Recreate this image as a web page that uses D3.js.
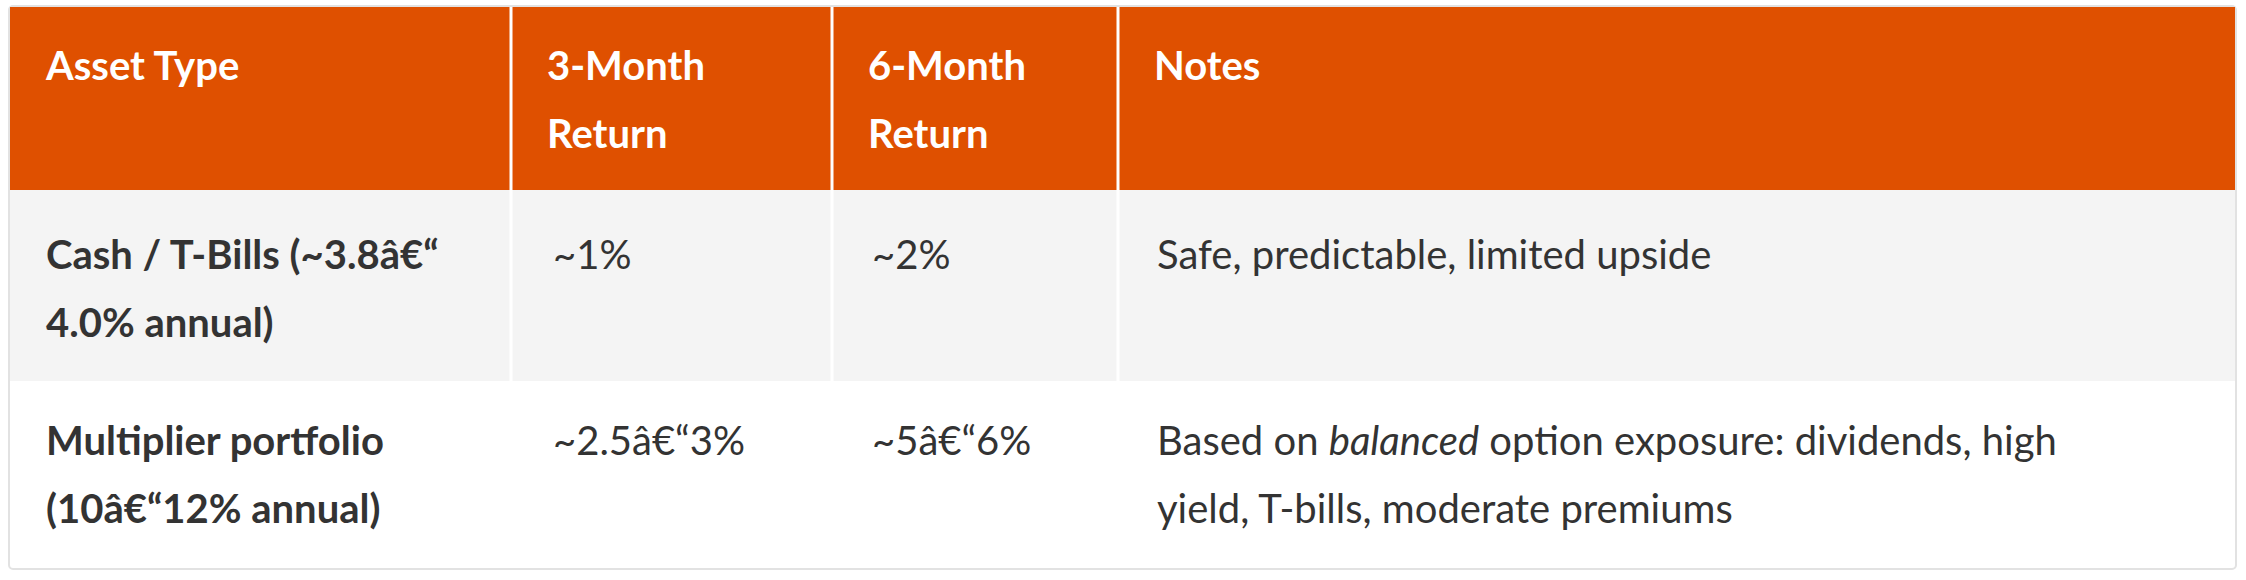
<html>
<head>
<script src="https://d3js.org/d3.v7.min.js"></script>
<style>
body { margin: 0; background: #fff; font-family: Lato, "Noto Sans", sans-serif; }
</style>
</head>
<body>
<svg id="chart" width="2246" height="580"></svg>
<script>
  // table content
  var headers = [["Asset Type"], ["3-Month", "Return"], ["6-Month", "Return"], ["Notes"]];
  var assetTypes = [["Cash / T-Bills (~3.8–", "4.0% annual)"], ["Multiplier portfolio", "(10–12% annual)"]];
  var threeMonth = ["~1%", "~2.5–3%"];
  var sixMonth = ["~2%", "~5–6%"];
  var notes = [
    [[{t: "Safe, predictable, limited upside"}]],
    [[{t: "Based on "}, {t: "balanced", i: true}, {t: " option exposure: dividends, high"}],
     [{t: "yield, T-bills, moderate premiums"}]]
  ];

  var colEdges = [10, 511, 832, 1118, 2235];
  var rowEdges = [7, 190, 381, 568];
  var padX = 36, lineH = 68, fs = 40;

  var svg = d3.select("#chart");

  svg.append("rect").attr("x", 9).attr("y", 6).attr("width", 2227).attr("height", 563)
    .attr("rx", 4).attr("fill", "#fff").attr("stroke", "#e2e2e2").attr("stroke-width", 2);

  // header
  svg.append("rect").attr("x", colEdges[0]).attr("y", rowEdges[0])
    .attr("width", colEdges[4] - colEdges[0]).attr("height", rowEdges[1] - rowEdges[0])
    .attr("fill", "#df5000");
  svg.append("rect").attr("x", colEdges[0]).attr("y", rowEdges[1])
    .attr("width", colEdges[4] - colEdges[0]).attr("height", rowEdges[2] - rowEdges[1])
    .attr("fill", "#f4f4f4");

  // column dividers
  svg.selectAll("line.div").data(colEdges.slice(1, 4)).enter().append("line")
    .attr("x1", d => d).attr("x2", d => d).attr("y1", rowEdges[0]).attr("y2", rowEdges[2])
    .attr("stroke", "#fff").attr("stroke-width", 3);

  function cell(x, y, lines, opts) {
    var t = svg.append("text").attr("x", x).attr("y", y)
      .attr("font-size", fs).attr("fill", opts.fill).attr("font-weight", opts.weight);
    lines.forEach(function(ln, i) {
      t.append("tspan").attr("x", x).attr("dy", i ? lineH : 0).text(ln);
    });
  }

  headers.forEach(function(h, c) {
    cell(colEdges[c] + padX, 80, h, {fill: "#fff", weight: 700});
  });

  var baselines = [269, 455];
  assetTypes.forEach(function(a, r) {
    cell(colEdges[0] + padX, baselines[r], a, {fill: "#333", weight: 700});
    cell(colEdges[1] + padX + 6, baselines[r], [threeMonth[r]], {fill: "#333", weight: 400});
    cell(colEdges[2] + padX + 4, baselines[r], [sixMonth[r]], {fill: "#333", weight: 400});
    var t = svg.append("text").attr("font-size", fs).attr("fill", "#333");
    notes[r].forEach(function(ln, i) {
      ln.forEach(function(seg, j) {
        var s = t.append("tspan").text(seg.t);
        if (j === 0) s.attr("x", colEdges[3] + padX + 3).attr("y", baselines[r] + i * lineH);
        if (seg.i) s.attr("font-style", "italic");
      });
    });
  });
</script>
</body>
</html>
